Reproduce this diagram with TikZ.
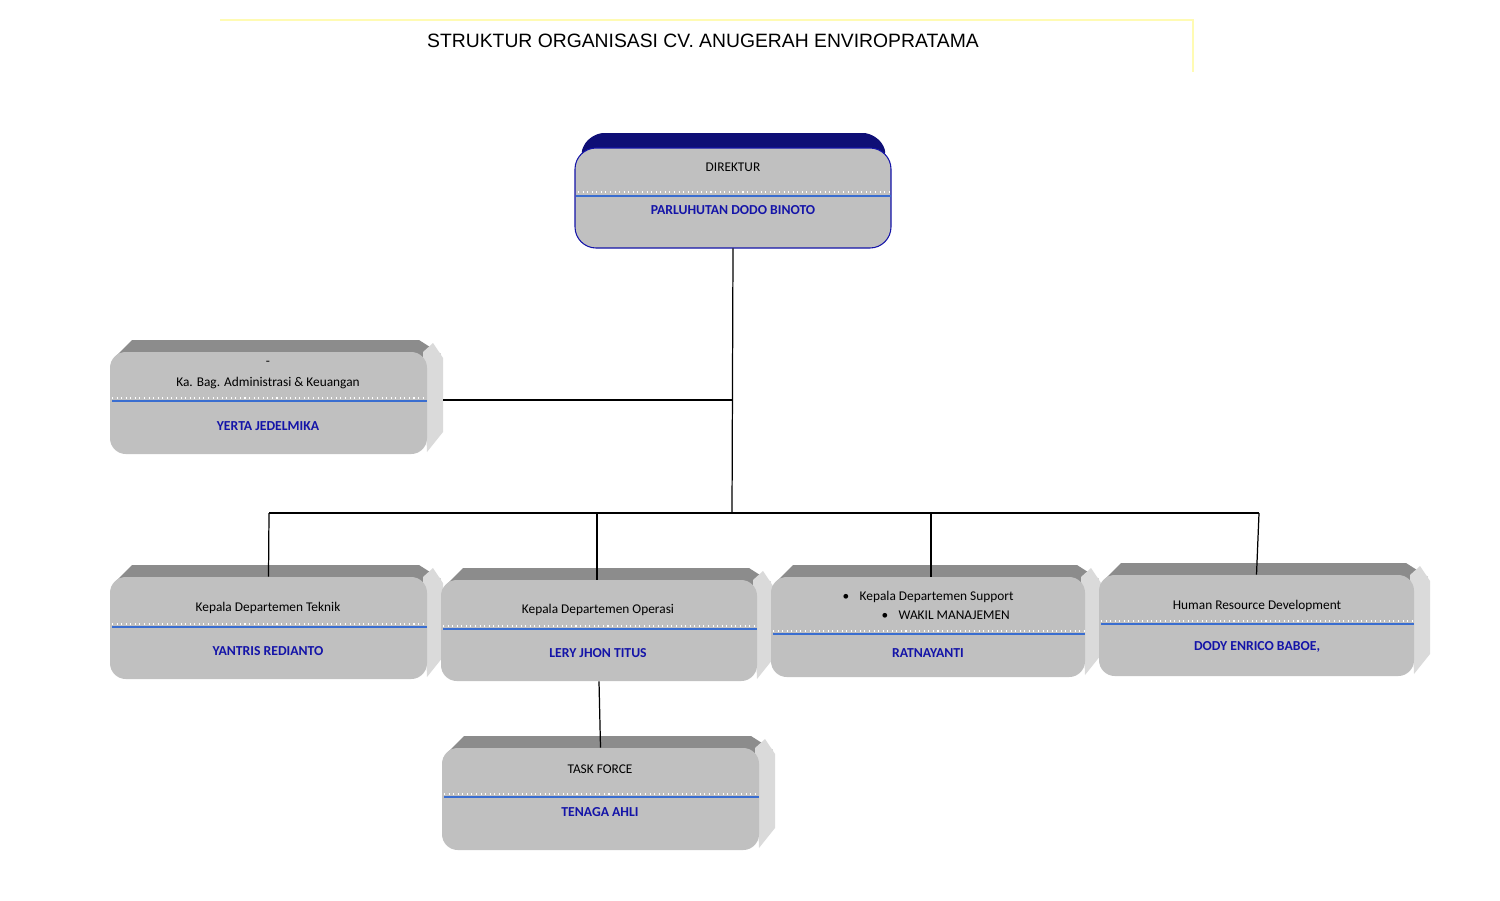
\documentclass[tikz,border=0pt]{standalone}
\usepackage{fontspec}
\setmainfont{Carlito}
\newfontfamily\titlefont{Liberation Sans}
\usetikzlibrary{fit}
\definecolor{frontgray}{HTML}{C0C0C0}
\definecolor{topgray}{HTML}{8C8C8C}
\definecolor{sidegray}{HTML}{DADADA}
\definecolor{namecol}{HTML}{1414A8}
\definecolor{rulecol}{HTML}{3A6ED0}
\tikzset{
      rolelabel/.style={font=\fontsize{7.6}{9}\selectfont, text=black},
      personname/.style={font=\fontsize{7.8}{9}\selectfont\bfseries, text=namecol},
      link/.style={draw=black, line width=0.7},
}
% 3D box: name, x1, y1, x2, y2, divider
\newcommand{\orgbox}[6]{
        \fill[topgray] (#2+4,#3+6) -- (#2+22,#3-12) -- (#4-8,#3-12) -- (#4+14,#3+2) -- (#4,#3+10) -- cycle;
        \fill[sidegray] (#4-4,#3) -- (#4+6,#3-9) -- (#4+16,#3+6) -- (#4+16,#5-22) -- (#4,#5-2) -- cycle;
        \fill[frontgray, rounded corners=9] (#2,#3) rectangle (#4,#5);
        \draw[white, dotted, line width=0.6] (#2+2,#6-3) -- (#4,#6-3);
        \draw[rulecol, line width=0.7] (#2+2,#6) -- (#4,#6);
        \node[fit={(#2,#3) (#4,#5)}, inner sep=0] (#1) {};
}
\begin{document}
\begin{tikzpicture}[x=0.02cm, y=-0.02cm]
        \useasboundingbox (0,0) rectangle (1500,900);

        % title
        \draw[yellow!30!white, line width=0.8] (220,20) -- (1193,20) -- (1193,72);
        \node[font=\titlefont\fontsize{11}{13}\selectfont] (title) at (703,41) {STRUKTUR ORGANISASI CV. ANUGERAH ENVIROPRATAMA};

        % direktur
        \fill[namecol!70!black, rounded corners=8] (577,160) -- (590,133) -- (877,133) -- (890,160) -- cycle;
        \fill[frontgray, rounded corners=12] (575,148) rectangle (891,248);
        \draw[namecol, line width=0.6, rounded corners=12] (575,148) rectangle (891,248);
        \draw[white, dotted, line width=0.6] (578,192) -- (891,192);
        \draw[rulecol, line width=0.7] (576,196) -- (891,196);
        \node[fit={(575,148) (891,248)}, inner sep=0] (dir) {};
        \node[rolelabel] at (733,167) {DIREKTUR};
        \node[personname] at (733,210) {PARLUHUTAN DODO BINOTO};

        % boxes
        \orgbox{adm}{110}{352}{427}{454}{401}
        \node[rolelabel] at (268,363) {-};
        \node[rolelabel] at (268,383) {Ka. Bag. Administrasi \& Keuangan};
        \node[personname] at (268,426) {YERTA JEDELMIKA};

        \orgbox{tek}{110}{577}{427}{679}{627}
        \node[rolelabel] at (268,608) {Kepala Departemen Teknik};
        \node[personname] at (268,651) {YANTRIS REDIANTO};

        \orgbox{ops}{441}{580}{757}{681}{629}
        \node[rolelabel] at (598,610) {Kepala Departemen Operasi};
        \node[personname] at (598,653) {LERY JHON TITUS};

        \orgbox{sup}{771}{577}{1085}{677}{634}
        \node[rolelabel] at (928,597) {\textbullet\hspace{6pt}Kepala Departemen Support};
        \node[rolelabel] at (928,615) {\hspace{20pt}\textbullet\hspace{6pt}WAKIL MANAJEMEN};
        \node[personname] at (928,653) {RATNAYANTI};

        \orgbox{hrd}{1099}{575}{1414}{676}{624}
        \node[rolelabel] at (1257,606) {Human Resource Development};
        \node[personname] at (1257,647) {DODY ENRICO BABOE,};

        \orgbox{task}{442}{748}{759}{850}{797}
        \node[rolelabel] at (600,769) {TASK FORCE};
        \node[personname] at (600,812) {TENAGA AHLI};

        % connectors
        \coordinate (mid) at (732,400);
        \coordinate (bus) at (732,513);
        \coordinate (busl) at (269,513);
        \coordinate (busr) at (1259,513);
        \draw[link] (dir.south) -- (bus);
        \draw[link] ([xshift=16*0.02cm]adm.east |- mid) -- (mid);
        \draw[link] (busl) -- (busr);
        \draw[link] (busl) -- (tek.north);
        \draw[link] (597,513) -- (ops.north -| 597,0);
        \draw[link] (931,513) -- (sup.north -| 931,0);
        \draw[link] (busr) -- (hrd.north);
        \draw[link] (ops.south) -- (task.north);
\end{tikzpicture}
\end{document}
